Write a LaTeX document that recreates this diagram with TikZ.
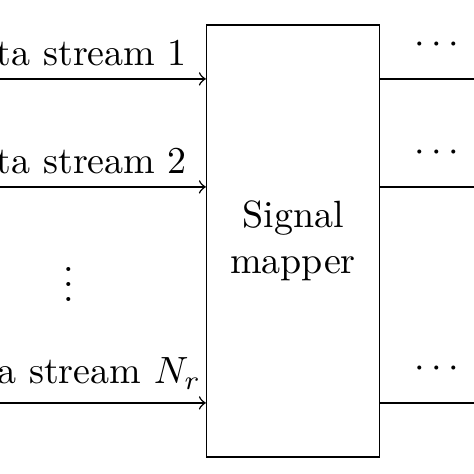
\documentclass[tikz,border=0pt]{standalone}
\usepackage{amsmath}
\usepackage{tikz}
\usetikzlibrary{arrows}
\tikzstyle{mapperbox}=[rectangle,draw=black,minimum width=1.6cm,minimum height=4cm,align=center,inner sep=0mm]
\tikzstyle{outdots}=[above=3.2pt]
\tikzstyle{arrow}=[->]

\begin{document}
\begin{tikzpicture}
      \clip (-2.713,-2.158) rectangle (1.676,2.231);
      \node[mapperbox] at (0,0) (sm) {Signal\\mapper};
      \coordinate (in1) at (-3.36,1.5);
      \coordinate (in2) at (-3.36,0.5);
      \coordinate (inN) at (-3.36,-1.5);
      \coordinate (out1) at (1.92,1.5);
      \coordinate (out2) at (1.92,0.5);
      \coordinate (outN) at (1.92,-1.5);
      \draw[arrow] (in1) -- (in1 -| sm.west) node[midway,above] {Data stream 1};
      \draw[arrow] (in2) -- (in2 -| sm.west) node[midway,above] {Data stream 2};
      \draw[arrow] (inN) -- (inN -| sm.west) node[midway,above] {Data stream $N_r$};
      \node at (-2.08,-0.3) (vd) {$\vdots$};
      \draw (out1 -| sm.east) -- (out1) node[midway,outdots] {$\cdots$};
      \draw (out2 -| sm.east) -- (out2) node[midway,outdots] {$\cdots$};
      \draw (outN -| sm.east) -- (outN) node[midway,outdots] {$\cdots$};
    \end{tikzpicture}
\end{document}
